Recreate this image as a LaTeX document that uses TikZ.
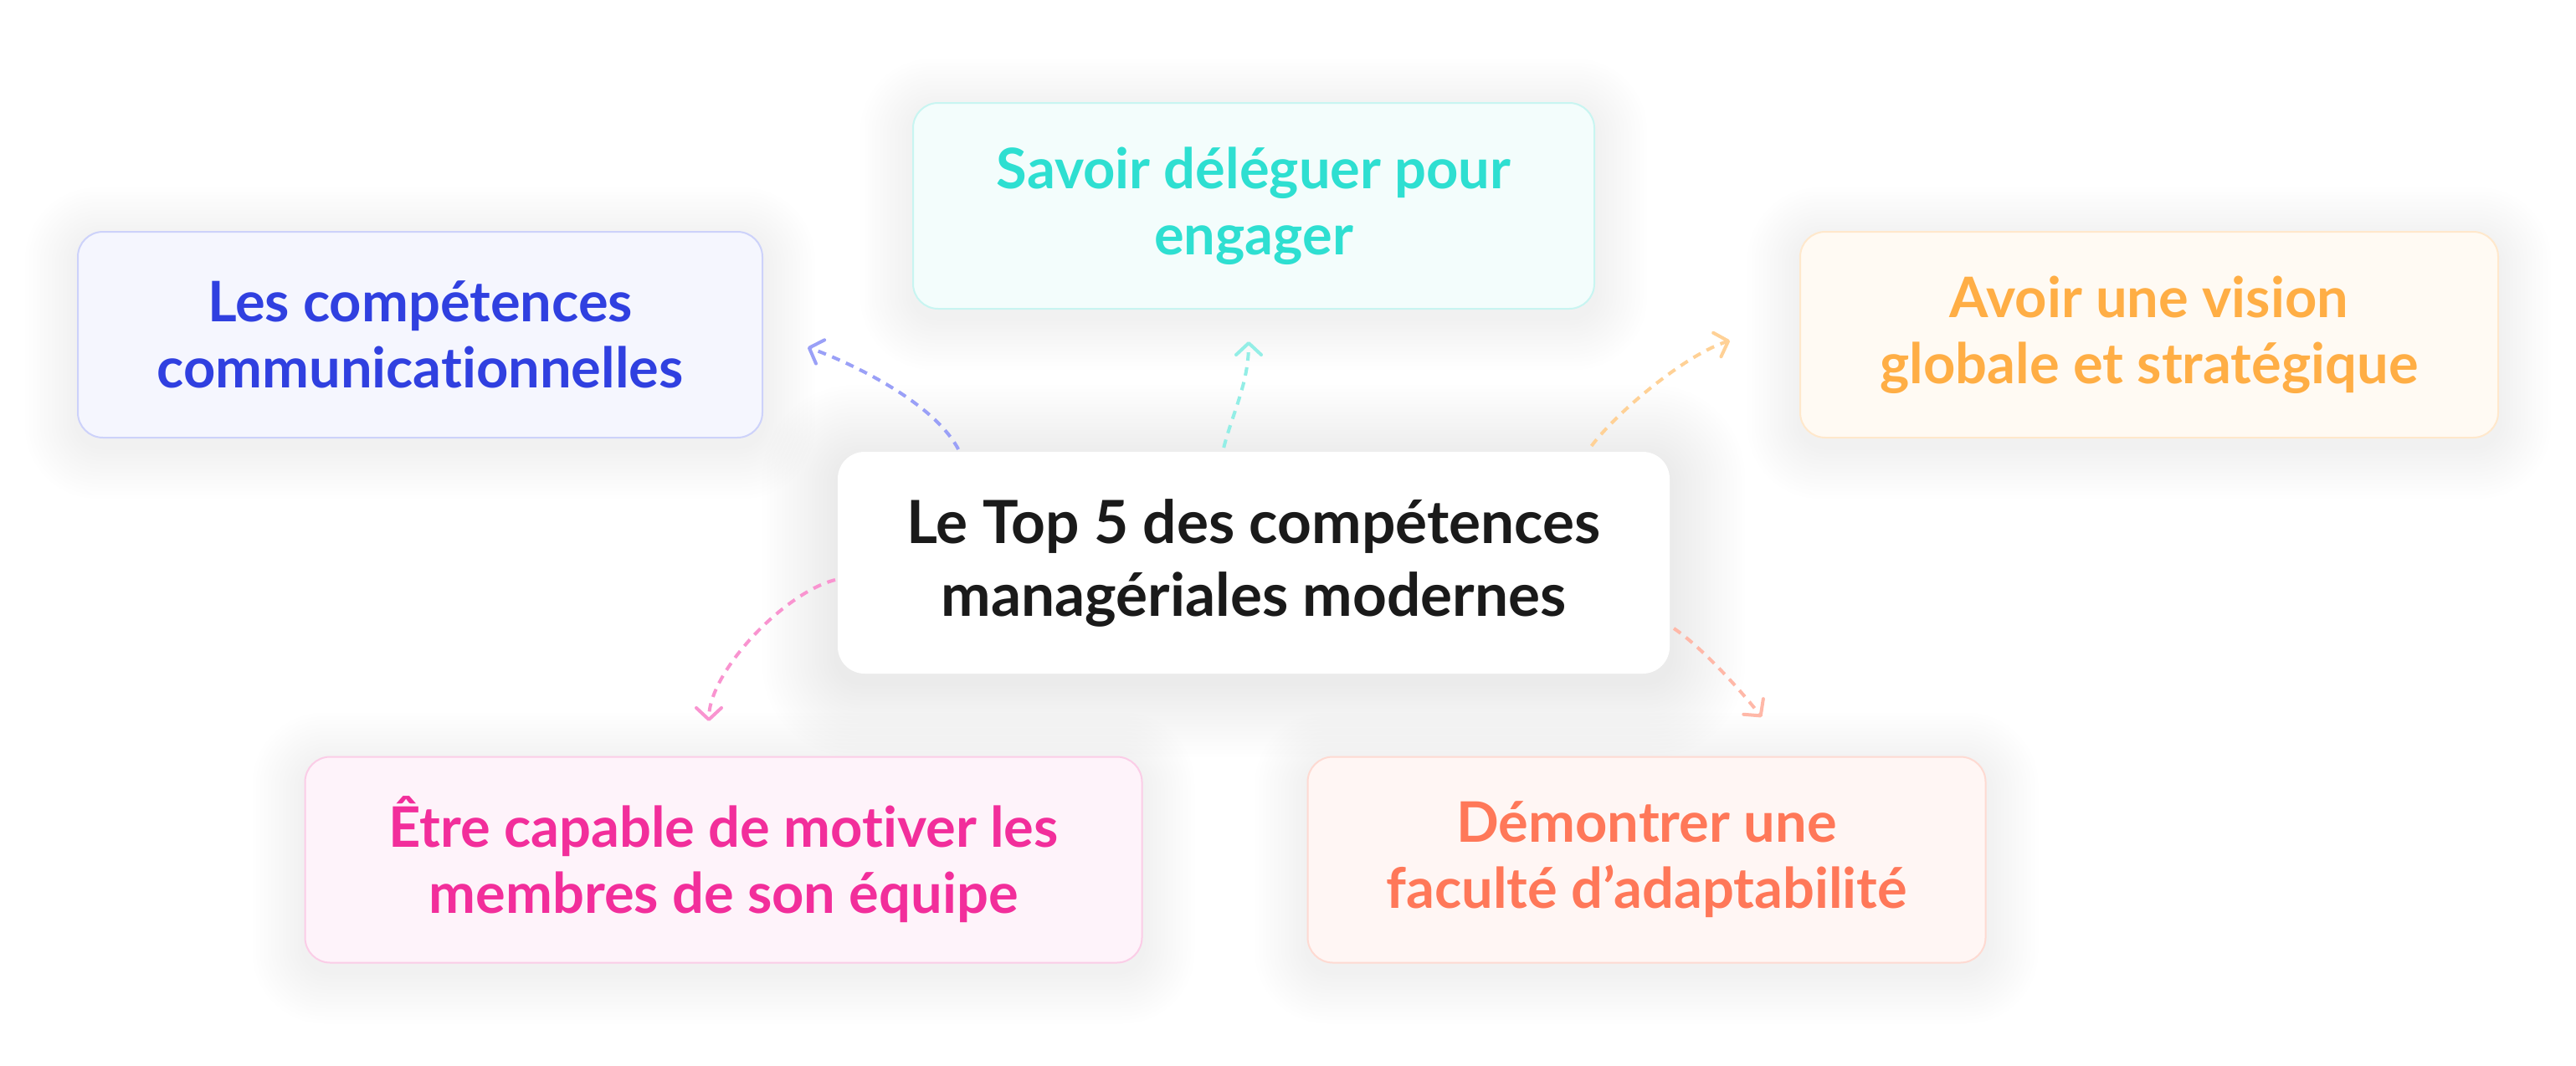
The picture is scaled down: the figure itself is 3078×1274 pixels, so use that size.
\documentclass[tikz,border=0pt]{standalone}
\usepackage{fontspec}
\setmainfont{Lato}[Ligatures={NoCommon}]
\usetikzlibrary{arrows.meta,calc,backgrounds}
\definecolor{bluetxt}{HTML}{3040E0}\definecolor{bluefill}{HTML}{F5F6FE}\definecolor{blueline}{HTML}{CDD2FA}\definecolor{bluearr}{HTML}{9AA0F7}
\definecolor{tealtxt}{HTML}{2EDFD1}\definecolor{tealfill}{HTML}{F3FDFC}\definecolor{tealline}{HTML}{C8F5F1}\definecolor{tealarr}{HTML}{93EEE6}
\definecolor{orgtxt}{HTML}{FFAE45}\definecolor{orgfill}{HTML}{FFFAF3}\definecolor{orgline}{HTML}{FFE8CC}\definecolor{orgarr}{HTML}{FFD196}
\definecolor{pinktxt}{HTML}{F22E9B}\definecolor{pinkfill}{HTML}{FEF3FA}\definecolor{pinkline}{HTML}{FBCDE7}\definecolor{pinkarr}{HTML}{F994D0}
\definecolor{saltxt}{HTML}{FF7859}\definecolor{salfill}{HTML}{FFF6F4}\definecolor{salline}{HTML}{FEDAD2}\definecolor{salarr}{HTML}{FFB8A8}
\definecolor{maintxt}{HTML}{1A1A1A}
\tikzset{
  skillbox/.style={rounded corners=15pt, inner sep=0pt, outer sep=0pt, line width=1pt,
    align=center, font=\fontsize{33.4}{39.5}\selectfont\bfseries},
  mainbox/.style={rounded corners=16pt, inner sep=0pt, outer sep=0pt, fill=white,
    align=center, font=\fontsize{35.6}{43.5}\selectfont\bfseries, text=maintxt},
  softshadow/.style={fill=black, opacity=0.003},
  conn/.style={line width=2pt, dash pattern=on 5pt off 4pt,
    -{Straight Barb[length=7pt, width=15pt, line width=2pt, line cap=round, line join=round]}}
}
\begin{document}
\begin{tikzpicture}[x=0.5pt, y=-0.5pt]
\useasboundingbox (0,0) rectangle (3078,1274);

\node[skillbox, draw=blueline, fill=bluefill, text=bluetxt, minimum width=409pt, minimum height=123pt] (blue) at (502,400)
  {Les compétences\\communicationnelles};
\node[skillbox, draw=tealline, fill=tealfill, text=tealtxt, minimum width=407pt, minimum height=123pt] (teal) at (1498,246)
  {Savoir déléguer pour\\engager};
\node[skillbox, draw=orgline, fill=orgfill, text=orgtxt, minimum width=417pt, minimum height=123pt] (org) at (2568,400)
  {Avoir une vision\\globale et stratégique};
\node[skillbox, draw=pinkline, fill=pinkfill, text=pinktxt, minimum width=500pt, minimum height=123pt] (pink) at (864.5,1027.5)
  {Être capable de motiver les\\membres de son équipe};
\node[skillbox, draw=salline, fill=salfill, text=saltxt, minimum width=405pt, minimum height=123pt] (sal) at (1967.5,1027.5)
  {Démontrer une\\faculté d’adaptabilité};
\node[mainbox, minimum width=497pt, minimum height=132.5pt] (c) at (1498,672.5)
  {Le Top 5 des compétences\\managériales modernes};

\begin{scope}[on background layer]
  \fill[white] (0,0) rectangle (3078,1274);
  \foreach \n/\k in {blue/14, teal/14, org/14, pink/14, sal/14, c/20} {
    \foreach \i in {1,...,\k} {
      \fill[softshadow, rounded corners={15pt+\i*2pt}]
        ($(\n.north west)+(-\i*4.5,-\i*4.5+10)$) rectangle ($(\n.south east)+(\i*4.5,\i*4.5+10)$);
    }
  }
\end{scope}

\coordinate (sb) at ($(c.north west)!0.145!(c.north east)+(0,-3)$);
\coordinate (st) at ($(c.north west)!0.464!(c.north east)+(0,-5)$);
\coordinate (so) at ($(c.north west)!0.906!(c.north east)+(0,-7)$);
\coordinate (sp) at ($(c.north west)+(-3,153)$);
\coordinate (ss) at ($(c.north east)+(5,211)$);
\coordinate (eb) at (965,415);
\coordinate (et) at (1492,408);
\coordinate (eo) at (2067,407);
\coordinate (ep) at (847,862);
\coordinate (es) at (2105,857);

\draw[conn, bluearr] (sb) .. controls +(-30,-57) and +(50,18) .. (eb);
\draw[conn, tealarr] (st) .. controls +(10,-40) and +(0,50) .. (et);
\draw[conn, orgarr] (so) .. controls +(30,-40) and +(-55,18) .. (eo);
\draw[conn, pinkarr] (sp) .. controls +(-60,15) and +(0,-60) .. (ep);
\draw[conn, salarr] (ss) .. controls +(30,20) and +(-30,-38) .. (es);
\end{tikzpicture}
\end{document}
